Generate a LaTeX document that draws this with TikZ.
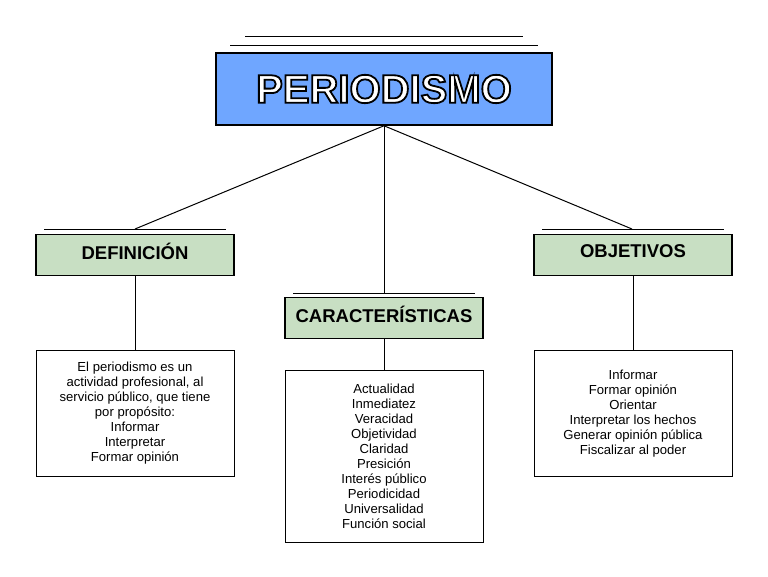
\documentclass[tikz,border=0pt]{standalone}
\usepackage{fontspec}
\setmainfont{Liberation Sans}
\definecolor{tblue}{HTML}{6FA6FF}
\definecolor{tgreen}{HTML}{C8DFC3}
\newcommand{\outlinetext}[1]{\special{pdf:literal direct 2 Tr 1.8 w 0 G 1 g}#1\special{pdf:literal direct 0 Tr 0 g}}
\begin{document}
\begin{tikzpicture}[x=1pt,y=-1pt,
  hbox/.style={draw,line width=1.2pt,fill=tgreen,minimum width=198pt,minimum height=41pt,font=\fontsize{18.5}{20}\selectfont\bfseries,inner sep=0pt,text depth=8pt},
  tbox/.style={draw,line width=1pt,minimum width=198pt,align=center,font=\fontsize{13.1}{15}\selectfont,inner sep=0pt,anchor=north},
  ln/.style={line width=1pt}]
\useasboundingbox (0,0) rectangle (768,576);
\draw[ln] (245,36) -- (523,36);
\draw[ln] (230,45) -- (538,45);
\node[draw,line width=1.5pt,fill=tblue,minimum width=336pt,minimum height=72pt,inner sep=0pt] (title) at (384,89)
  {\fontsize{40}{42}\selectfont\bfseries\outlinetext{PERIODISMO}};
% headers
\coordinate (dl) at (135,229);
\coordinate (cl) at (384,293);
\coordinate (ol) at (632,229);
\draw[ln] (44,229) -- (226,229);
\draw[ln] (293,293) -- (475,293);
\draw[ln] (542,229) -- (724,229);
\node[hbox] (def) at (135,255) {DEFINICIÓN};
\node[hbox] (car) at (384,318) {CARACTERÍSTICAS};
\node[hbox] (obj) at (633,255) {OBJETIVOS};
\draw[ln] (title.south) -- (dl);
\draw[ln] (title.south) -- (cl);
\draw[ln] (title.south) -- (ol);
% text boxes
\node[tbox,minimum height=126pt] (dt) at (135,350) {El periodismo es un\\actividad profesional, al\\servicio público, que tiene\\por propósito:\\Informar\\Interpretar\\Formar opinión};
\node[tbox,minimum height=172pt] (ct) at (384,370) {Actualidad\\Inmediatez\\Veracidad\\Objetividad\\Claridad\\Presición\\Interés público\\Periodicidad\\Universalidad\\Función social};
\node[tbox,minimum height=126pt] (ot) at (633,350) {Informar\\Formar opinión\\Orientar\\Interpretar los hechos\\Generar opinión pública\\Fiscalizar al poder};
\draw[ln] (def.south) -- (dt.north);
\draw[ln] (car.south) -- (ct.north);
\draw[ln] (obj.south) -- (ot.north);
\end{tikzpicture}
\end{document}
